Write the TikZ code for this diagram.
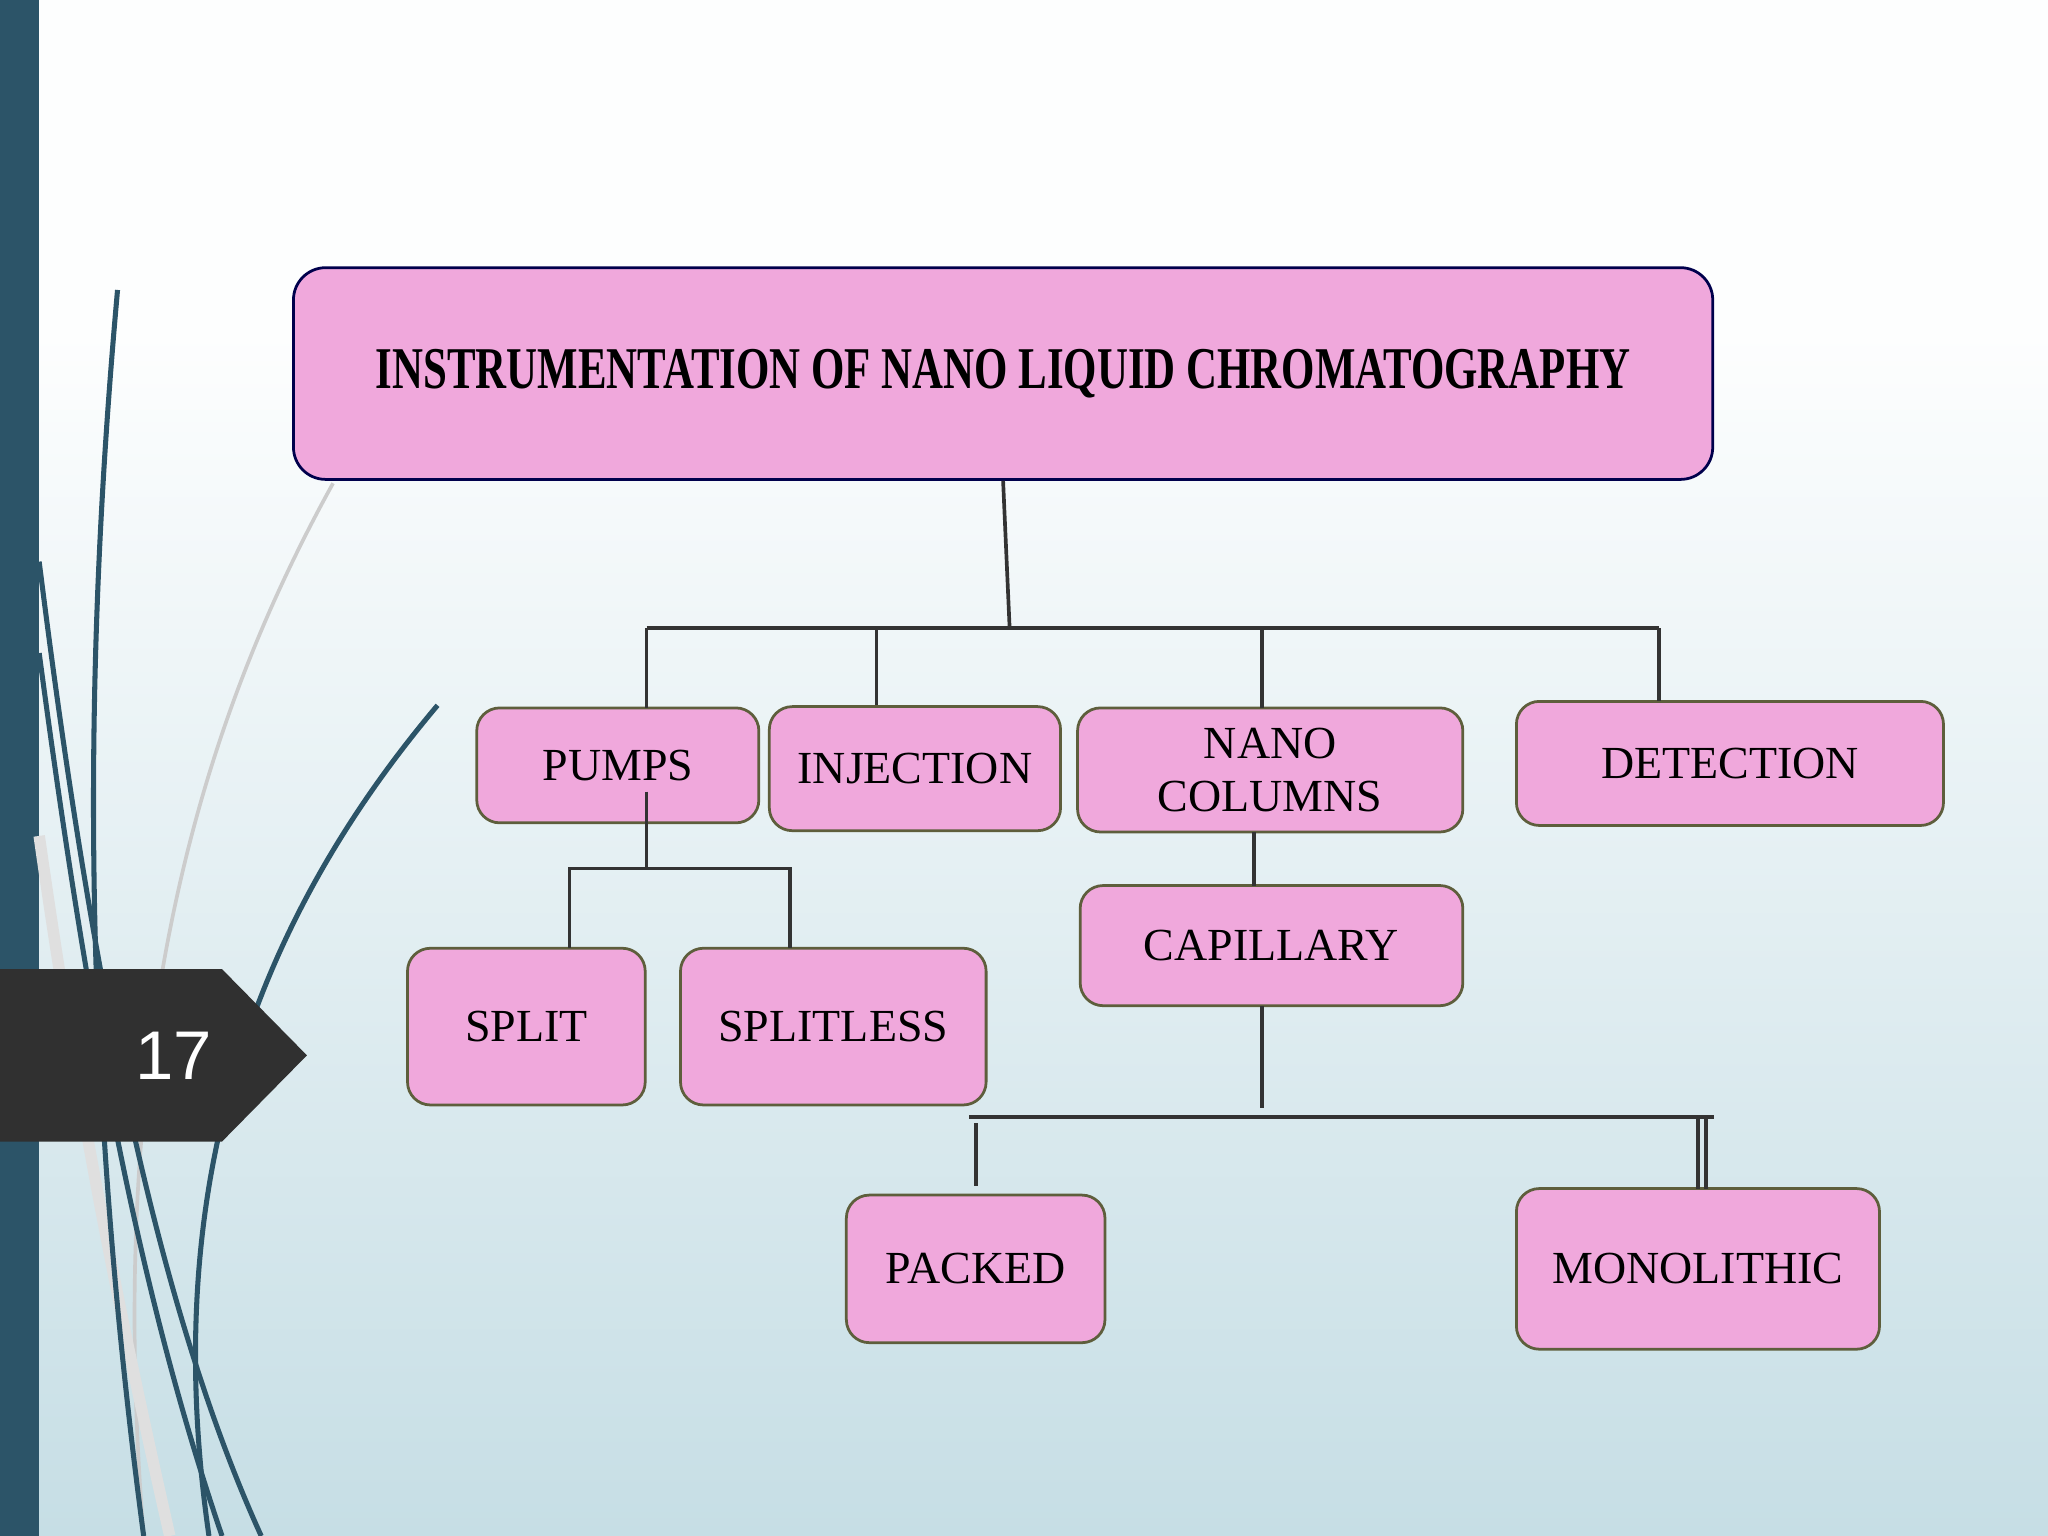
\documentclass[tikz,border=0pt]{standalone}
\usepackage{fontspec}
\setmainfont{Liberation Serif}
\newfontfamily\numfont{Liberation Sans}
\definecolor{boxfill}{HTML}{F0A8DC}
\definecolor{boxline}{HTML}{5E5E3C}
\definecolor{barblue}{HTML}{2C5468}
\definecolor{bgbot}{HTML}{C6DEE5}
\definecolor{linec}{HTML}{333333}
\tikzset{box/.style={draw=boxline,fill=boxfill,rounded corners=5pt,line width=0.6pt,align=center,font=\fontsize{10}{11.5}\selectfont,inner sep=0pt},
conn/.style={draw=linec,line width=0.8pt}}
\newcommand\bx[6]{\node[box,minimum width={(#4-#2)*0.01cm},minimum height={(#5-#3)*0.01cm}] (#1) at ({(#2+#4)/2},{(#3+#5)/2}) {#6};}
\begin{document}
\begin{tikzpicture}[x=0.01cm,y=-0.01cm]
\useasboundingbox (0,0) rectangle (1568,1176);
\fill[white!97!bgbot] (0,0) rectangle (1568,250);
\shade[top color=white!97!bgbot,bottom color=bgbot] (0,250) rectangle (1568,1176);
\fill[barblue] (0,0) rectangle (30,1176);
% decorative curves
\draw[gray!40,line width=0.8pt] (255,370) .. controls (150,560) and (80,800) .. (110,1176);
\draw[gray!25,line width=2.5pt] (30,640) .. controls (60,850) and (90,1000) .. (130,1176);
\draw[barblue,line width=1.1pt] (90,222) .. controls (65,500) and (60,800) .. (110,1176);
\draw[barblue,line width=1.1pt] (30,430) .. controls (70,750) and (120,1000) .. (200,1176);
\draw[barblue,line width=1.1pt] (30,500) .. controls (70,800) and (110,1000) .. (170,1176);
\draw[barblue,line width=1.1pt] (335,540) .. controls (200,700) and (120,900) .. (160,1176);
% page number
\fill[linec!95!black] (0,742) -- (170,742) -- (235,808) -- (170,874) -- (0,874) -- cycle;
\node[text=white,font=\numfont\fontsize{15}{15}\selectfont] (num) at (133,808) {17};
% boxes
\node[box,draw=black!70!blue,rounded corners=7pt,minimum width=10.86cm,minimum height=1.62cm] (T) at (768,286) {\resizebox{9.6cm}{0.3cm}{\textbf{INSTRUMENTATION OF NANO LIQUID CHROMATOGRAPHY}}};
\bx{P}{365}{542}{581}{630}{PUMPS}
\bx{I}{589}{541}{812}{636}{INJECTION}
\bx{N}{825}{542}{1120}{637}{NANO\\COLUMNS}
\bx{D}{1161}{537}{1488}{632}{DETECTION}
\bx{C}{827}{678}{1120}{770}{CAPILLARY}
\bx{S}{312}{726}{494}{846}{SPLIT}
\bx{SL}{521}{726}{755}{846}{SPLITLESS}
\bx{PK}{648}{915}{846}{1028}{PACKED}
\bx{M}{1161}{910}{1439}{1033}{MONOLITHIC}
% connectors
\coordinate (h1) at (773,481);
\draw[conn] (T.south) -- (h1);
\draw[conn] (495,481) -- (1270,481);
\draw[conn] (495,481) -- (495,542);
\draw[conn] (671,481) -- (I.north -| 671,0);
\draw[conn] (966,481) -- (966,542);
\draw[conn] (1270,481) -- (1270,537);
\draw[conn] (495,606) -- (495,665);
\draw[conn] (436,726) |- (605,665) -- (605,726);
\draw[conn] (960,637) -- (960,678);
\draw[conn] (966,770) -- (966,848);
\draw[conn] (742,855) -- (1312,855);
\draw[conn] (747,860) -- (747,908);
\draw[conn] (1300,855) -- (1300,910);
\draw[conn] (1306,855) -- (1306,910);
\end{tikzpicture}
\end{document}
